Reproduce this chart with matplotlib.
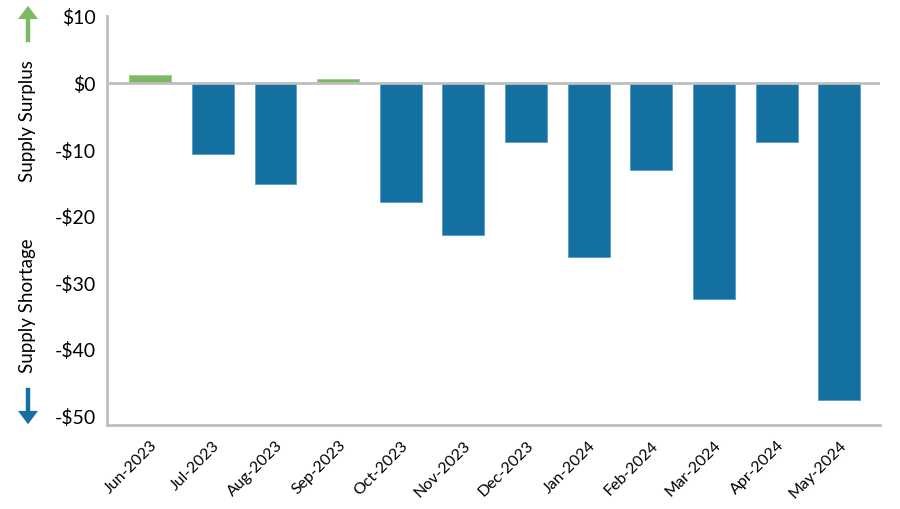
import matplotlib.pyplot as plt
from matplotlib.patches import FancyArrowPatch
import numpy as np

# monthly supply surplus / shortage ($)
months = ['Jun-2023', 'Jul-2023', 'Aug-2023', 'Sep-2023', 'Oct-2023', 'Nov-2023',
          'Dec-2023', 'Jan-2024', 'Feb-2024', 'Mar-2024', 'Apr-2024', 'May-2024']
values = [1.2, -10.7, -15.3, 0.5, -18.0, -23.0, -9.0, -26.3, -13.1, -32.6, -9.0, -47.8]
yticks = [10, 0, -10, -20, -30, -40, -50]
ytick_labels = ['$10', '$0', '-$10', '-$20', '-$30', '-$40', '-$50']

blue = '#1470A1'
green = '#7DB964'
grey = '#BFBFBF'

plt.rcParams['font.family'] = ['Lato', 'DejaVu Sans']

fig = plt.figure(figsize=(9, 5.1), dpi=100)
ax = fig.add_axes([107/900, 1 - 426/510, (880-107)/900, (426-17)/510])

x = np.arange(len(months))
colors = [green if v > 0 else blue for v in values]
edges = ['#9ccd88' if v > 0 else '#5a9cc4' for v in values]
ax.bar(x, values, width=0.67, color=colors, edgecolor=edges, linewidth=0.6, zorder=2)

ax.axhline(0, color=grey, lw=2, zorder=3)

ax.set_xlim(-0.69, 11.65)
ax.set_ylim(-51.5, 10)
ax.set_yticks(yticks)
ax.set_yticklabels(ytick_labels, fontsize=14)
ax.set_xticks(x)
ax.set_xticklabels(months, rotation=45, ha='right', rotation_mode='anchor', fontsize=11.5)
ax.tick_params(length=0)
ax.tick_params(axis='y', pad=8)
ax.tick_params(axis='x', pad=9)

for s in ['top', 'right']:
    ax.spines[s].set_visible(False)
for s in ['left', 'bottom']:
    ax.spines[s].set_color(grey)
    ax.spines[s].set_linewidth(2)

# side labels with arrows
fig.text(28/900, 1 - 121/510, 'Supply Surplus', rotation=90, ha='center', va='center', fontsize=13.5)
fig.text(28/900, 1 - 306/510, 'Supply Shortage', rotation=90, ha='center', va='center', fontsize=13.5)
style = 'simple,head_width=3.6,head_length=2.4,tail_width=0.8'
fig.add_artist(FancyArrowPatch((28/900, 1 - 46/510), (28/900, 1 - 4/510),
                               transform=fig.transFigure, arrowstyle=style,
                               mutation_scale=4, color=green, lw=0))
fig.add_artist(FancyArrowPatch((28/900, 1 - 386/510), (28/900, 1 - 428/510),
                               transform=fig.transFigure, arrowstyle=style,
                               mutation_scale=4, color=blue, lw=0))

plt.savefig('out.png', dpi=100)
